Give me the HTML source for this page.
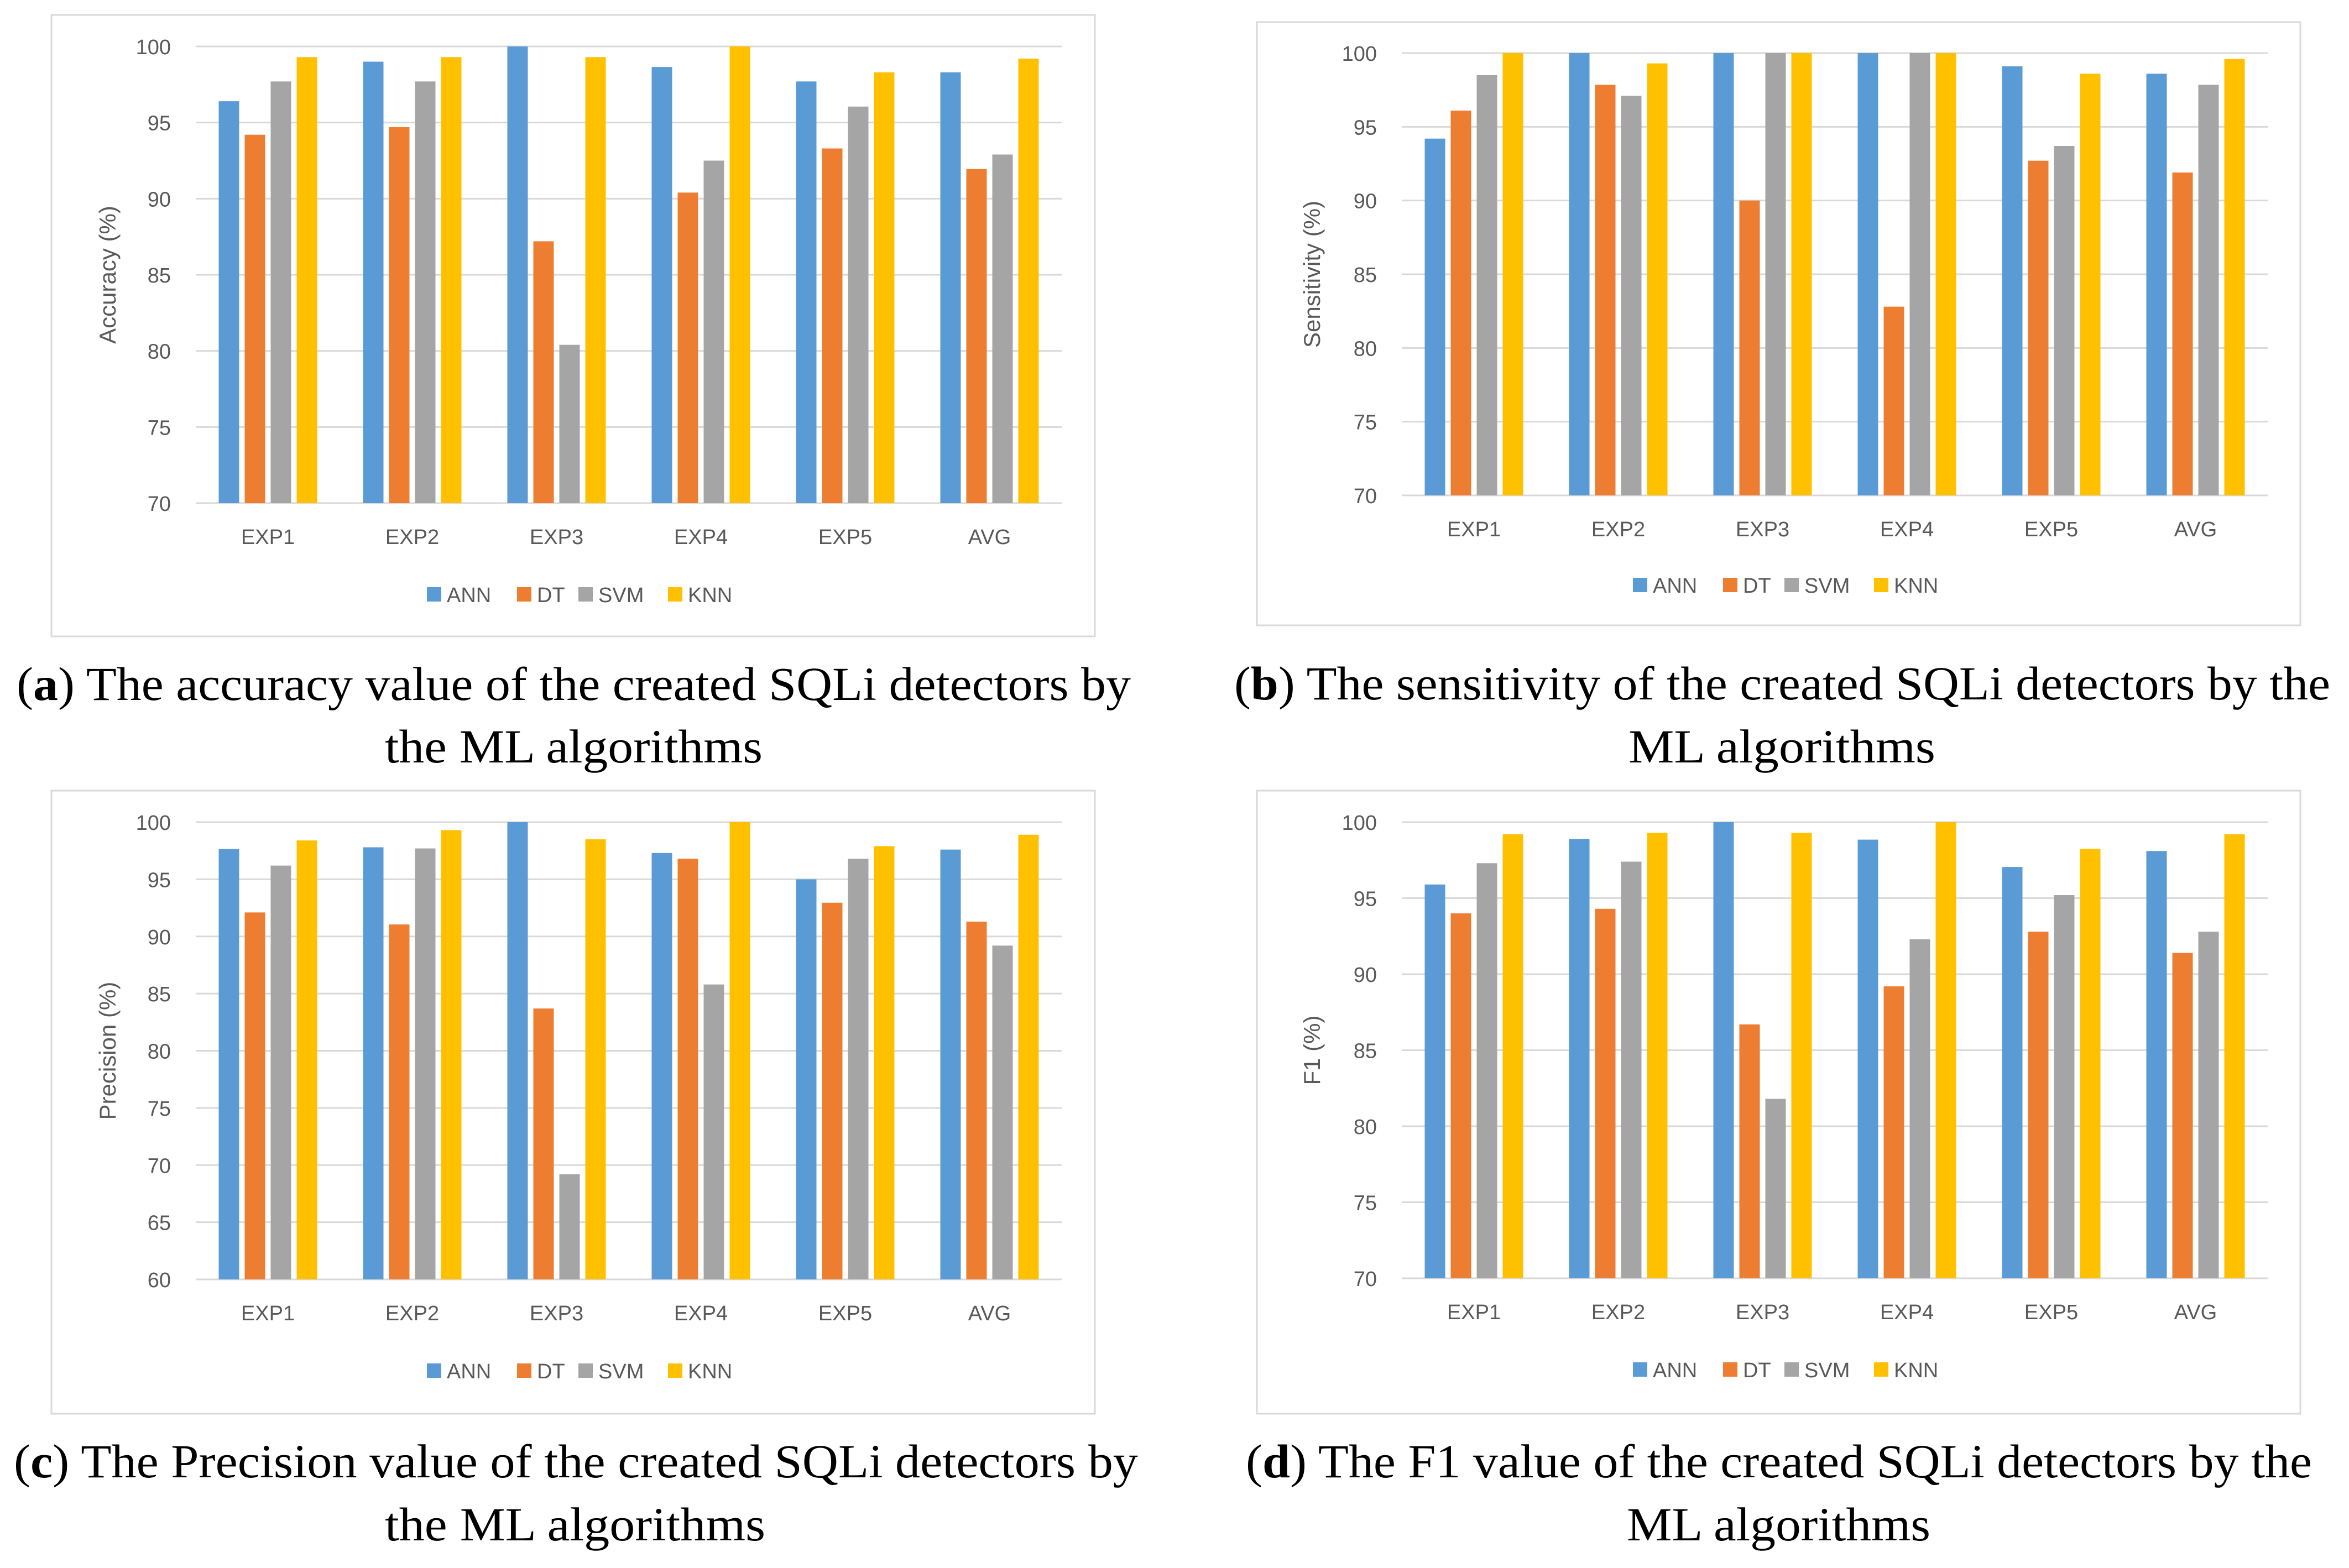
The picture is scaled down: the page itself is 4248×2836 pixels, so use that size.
<!DOCTYPE html>
<html><head><meta charset="utf-8"><style>
html,body{margin:0;padding:0;background:#fff;}
svg{display:block;}
.tk{font-family:"Liberation Sans",sans-serif;font-size:38px;fill:#595959;}
.ttl{font-family:"Liberation Sans",sans-serif;font-size:42px;fill:#595959;}
.cap{font-family:"Liberation Serif",serif;font-size:86px;fill:#000;}
</style></head><body>
<svg id="fig" xmlns="http://www.w3.org/2000/svg" width="4248" height="2836" viewBox="0 0 4248 2836">
<rect width="4248" height="2836" fill="#fff"/>
</svg>
<script>
const categories = ["EXP1","EXP2","EXP3","EXP4","EXP5","AVG"];
const seriesNames = ["ANN","DT","SVM","KNN"];
const seriesColors = ["#5b9bd5","#ed7d31","#a5a5a5","#ffc000"];

const accANN = [96.4, 99.0, 100, 98.65, 97.7, 98.3];
const accDT  = [94.2, 94.7, 87.2, 90.4, 93.3, 91.95];
const accSVM = [97.7, 97.7, 80.4, 92.5, 96.05, 92.9];
const accKNN = [99.3, 99.3, 99.3, 100, 98.3, 99.2];

const senANN = [94.2, 100, 100, 100, 99.1, 98.6];
const senDT  = [96.1, 97.85, 90.0, 82.8, 92.7, 91.9];
const senSVM = [98.5, 97.1, 100, 100, 93.7, 97.85];
const senKNN = [100, 99.3, 100, 100, 98.6, 99.6];

const preANN = [97.65, 97.8, 100, 97.3, 95.0, 97.6];
const preDT  = [92.1, 91.05, 83.7, 96.8, 92.95, 91.3];
const preSVM = [96.2, 97.7, 69.2, 85.8, 96.8, 89.2];
const preKNN = [98.4, 99.3, 98.5, 100, 97.9, 98.9];

const f1ANN = [95.9, 98.9, 100, 98.85, 97.05, 98.1];
const f1DT  = [94.0, 94.3, 86.7, 89.2, 92.8, 91.4];
const f1SVM = [97.3, 97.4, 81.8, 92.3, 95.2, 92.8];
const f1KNN = [99.2, 99.3, 99.3, 100, 98.25, 99.2];

const ticks7 = [70,75,80,85,90,95,100];
const ticks9 = [60,65,70,75,80,85,90,95,100];

const NS = "http://www.w3.org/2000/svg";
const svg = document.getElementById("fig");
function mk(tag, attrs, parent, text){
  const e = document.createElementNS(NS, tag);
  for (const k in attrs) e.setAttribute(k, attrs[k]);
  if (text !== undefined) e.textContent = text;
  (parent||svg).appendChild(e);
  return e;
}

const panels = [
 {id:"a", box:[93,27,1980,1151], x0:354, x1:1920, yTop:84, yBot:910, ticks:ticks7, title:"Accuracy (%)", titleX:195, catY:970, legY:1075,
  data:[accANN,accDT,accSVM,accKNN],
  cap1:["a"," The accuracy value of the created SQLi detectors by"], cap1x:[30,2045], cap2:"the ML algorithms", cap2x:[696,1379], capY:[1266,1379]},
 {id:"b", box:[2273,40,4160,1131], x0:2535, x1:4101, yTop:96, yBot:896, ticks:ticks7, title:"Sensitivity (%)", titleX:2373, catY:956, legY:1058,
  data:[senANN,senDT,senSVM,senKNN],
  cap1:["b"," The sensitivity of the created SQLi detectors by the"], cap1x:[2232,4214], cap2:"ML algorithms", cap2x:[2945,3500], capY:[1265,1379]},
 {id:"c", box:[93,1430,1980,2557], x0:354, x1:1920, yTop:1487, yBot:2314, ticks:ticks9, title:"Precision (%)", titleX:195, catY:2374, legY:2479,
  data:[preANN,preDT,preSVM,preKNN],
  cap1:["c"," The Precision value of the created SQLi detectors by"], cap1x:[25,2058], cap2:"the ML algorithms", cap2x:[696,1384], capY:[2672,2786]},
 {id:"d", box:[2273,1430,4160,2557], x0:2535, x1:4101, yTop:1487, yBot:2312, ticks:ticks7, title:"F1 (%)", titleX:2373, catY:2372, legY:2477,
  data:[f1ANN,f1DT,f1SVM,f1KNN],
  cap1:["d"," The F1 value of the created SQLi detectors by the"], cap1x:[2253,4181], cap2:"ML algorithms", cap2x:[2942,3491], capY:[2672,2786]}
];

panels.forEach(p => {
  const g = mk("g", {});
  
  
  const bx = mk("rect", {x:p.box[0], y:p.box[1], width:p.box[2]-p.box[0], height:p.box[3]-p.box[1], fill:"#fff", stroke:"#d9d9d9", "stroke-width":3}, g);
  
  
  const ymin = p.ticks[0], ymax = p.ticks[p.ticks.length-1];
  const yS = v => p.yBot - (v - ymin) / (ymax - ymin) * (p.yBot - p.yTop);
  const band = (p.x1 - p.x0) / categories.length;
  const bw = 37, step = 47, grpW = step*3 + bw;
  p.ticks.forEach(t => {
    const ln = mk("line", {x1:p.x0, x2:p.x1, y1:yS(t), y2:yS(t), stroke:"#d9d9d9", "stroke-width":3}, g);
    
    
    const tx = mk("text", {x:p.x0-45, y:yS(t)+14, "text-anchor":"end", class:"tk"}, g, String(t));
    
    
  });
  const cy = (p.yTop + p.yBot)/2;
  const tt = mk("text", {x:p.titleX, y:cy, "text-anchor":"middle", class:"ttl", transform:"rotate(-90 "+p.titleX+" "+cy+")", dy:"14"}, g, p.title);
  
  
  categories.forEach((c, i) => {
    const bs = p.x0 + i*band + (band - grpW)/2;
    p.data.forEach((arr, s) => {
      const v = arr[i];
      const r = mk("rect", {x:bs + s*step, y:yS(v), width:bw, height:p.yBot - yS(v), fill:seriesColors[s]}, g);
      
      
    });
    const cl = mk("text", {x:p.x0 + i*band + band/2, y:p.catY+14, "text-anchor":"middle", class:"tk"}, g, c);
    
    
  });
  const legOff = [418, 581, 692, 854];
  seriesNames.forEach((n, s) => {
    const lx = p.x0 + legOff[s];
    const sq = mk("rect", {x:lx, y:p.legY-13, width:26, height:26, fill:seriesColors[s]}, g);
    
    
    const lt = mk("text", {x:lx+36, y:p.legY+14, class:"tk"}, g, n);
    
    
  });
  const c1 = mk("text", {x:p.cap1x[0], y:p.capY[0], class:"cap", textLength:p.cap1x[1]-p.cap1x[0], lengthAdjust:"spacingAndGlyphs"}, g);
  
  
  mk("tspan", {}, c1, "(");
  mk("tspan", {"font-weight":"bold"}, c1, p.cap1[0]);
  mk("tspan", {}, c1, ")" + p.cap1[1]);
  const c2 = mk("text", {x:p.cap2x[0], y:p.capY[1], class:"cap", textLength:p.cap2x[1]-p.cap2x[0], lengthAdjust:"spacingAndGlyphs"}, g, p.cap2);
  
  
});
</script>
</body></html>
